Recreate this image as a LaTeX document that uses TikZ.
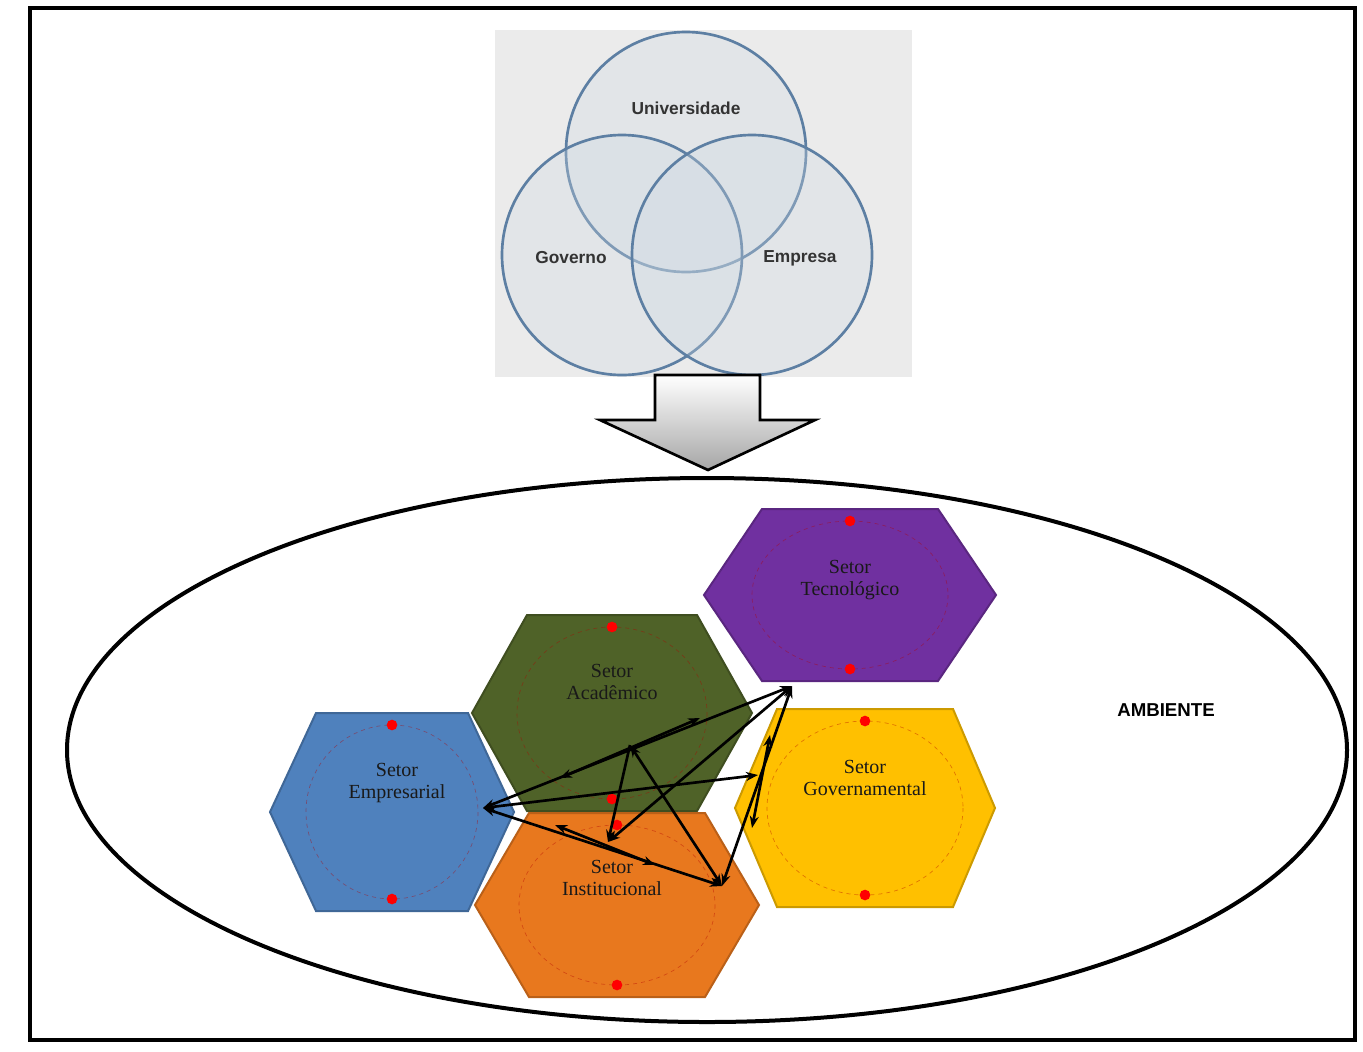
\documentclass[tikz,border=0pt]{standalone}
\usepackage{fontspec}
\setmainfont{Liberation Serif}
\newfontfamily\vennfont{Liberation Sans}
\usetikzlibrary{arrows.meta}
\definecolor{cblue}{HTML}{4F81BD}
\definecolor{cgreen}{HTML}{4F6228}
\definecolor{cpurple}{HTML}{7030A0}
\definecolor{cyellow}{HTML}{FFC000}
\definecolor{corange}{HTML}{E8781E}
\definecolor{vennline}{HTML}{5D7FA3}
\tikzset{
  venn/.style={circle,draw=vennline,line width=2pt,fill=vennline!30,fill opacity=0.3,minimum size=180pt,inner sep=0pt},
  vlab/.style={font=\vennfont\bfseries\fontsize{13}{15}\selectfont,text=black!80},
  hlab/.style={font=\fontsize{15}{17}\selectfont,align=center,text=black!90},
  link/.style={{Stealth[length=9pt]}-{Stealth[length=9pt]},line width=2pt,black},
  rdot/.style={circle,fill=red,inner sep=0pt,minimum size=8pt},
  ring/.style={draw=red!70!black,dashed,line width=0.5pt,opacity=0.4}
}
\newcommand{\hexa}[6]{% cx cy w a h fill
  \filldraw[fill=#6,draw=#6!80!black,line width=1.5pt] (#1-#3,#2)--(#1-#4,#2-#5)--(#1+#4,#2-#5)--(#1+#3,#2)--(#1+#4,#2+#5)--(#1-#4,#2+#5)--cycle;
  \draw[ring] (#1,#2) ellipse ({#4+10} and {#5-12});
  \node[rdot] at (#1,#2-#5+12) {};
  \node[rdot] at (#1,#2+#5-12) {};
}
\begin{document}
\begin{tikzpicture}[x=0.75pt,y=-0.75pt]
\useasboundingbox (0,0) rectangle (1363,1051);
\fill[white] (0,0) rectangle (1363,1051);
\draw[line width=3pt] (30,8) rectangle (1355,1040);
% Venn
\fill[black!8] (495,30) rectangle (912,377);
\node[venn] (u) at (686,152) {};
\node[venn] (g) at (622,255) {};
\node[venn] (e) at (752,255) {};
\node[vlab] at (686,108) {Universidade};
\node[vlab] at (571,258) {Governo};
\node[vlab] at (800,258) {Empresa};
% arrow
\draw[line width=2pt,top color=white,bottom color=black!35] (655,375)--(760,375)--(760,420)--(815,420)--(708,470)--(600,420)--(655,420)--cycle;
% ellipse
\draw[line width=3pt] (707,750) ellipse (640 and 272);
\node[font=\vennfont\bfseries\fontsize{14}{16}\selectfont] (amb) at (1166,710) {AMBIENTE};
% hexagons
\hexa{850}{595}{146}{88}{86}{cpurple}
\hexa{612}{713}{140}{85}{98}{cgreen}
\hexa{865}{808}{130}{88}{99}{cyellow}
\hexa{392}{812}{122}{76}{99}{cblue}
\hexa{617}{905}{142}{88}{92}{corange}
\node[hlab] (ht) at (850,580) {Setor\\Tecnológico};
\node[hlab] (ha) at (612,682) {Setor\\Acadêmico};
\node[hlab] (hg) at (865,778) {Setor\\Governamental};
\node[hlab] (he) at (397,783) {Setor\\Empresarial};
\node[hlab] (hi) at (612,878) {Setor\\Institucional};
% hubs
\coordinate (E) at (483,808);
\coordinate (T) at (792,686);
\coordinate (I) at (722,886);
\coordinate (G) at (758,775);
\coordinate (A) at (630,745);
\coordinate (A2) at (608,842);
\coordinate (G1) at (770,735);
\coordinate (G2) at (752,828);
\coordinate (I1) at (555,825);
\coordinate (I2) at (655,865);
\coordinate (M1) at (560,778);
\coordinate (M2) at (700,718);
\draw[link] (E)--(T);
\draw[link] (E)--(G);
\draw[link] (E)--(I);
\draw[link] (I1)--(I2);
\draw[link] (M1)--(M2);
\draw[link] (T)--(I);
\draw[link] (G1)--(G2);
\draw[link] (A)--(I);
\draw[link] (A2)--(T);
\draw[-{Stealth[length=9pt]},line width=2pt] (A)--(A2);
\end{tikzpicture}
\end{document}
